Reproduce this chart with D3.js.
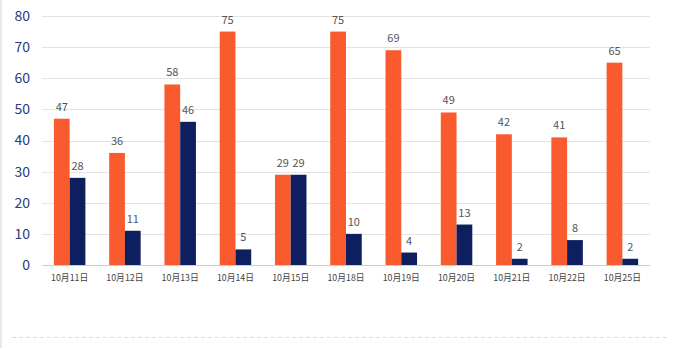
<!DOCTYPE html>
<html><head><meta charset="utf-8">
<script src="https://cdn.jsdelivr.net/npm/d3@7"></script>
<style>
html,body{margin:0;padding:0;background:#fff;}
svg{display:block;}
</style></head>
<body>
<svg id="c" width="700" height="350"></svg>
<script>
const categories = ["10月11日","10月12日","10月13日","10月14日","10月15日","10月18日","10月19日","10月20日","10月21日","10月22日","10月25日"];
const seriesA = [47,36,58,75,29,75,69,49,42,41,65];
const seriesB = [28,11,46,5,29,10,4,13,2,8,2];
const yTicks = [0,10,20,30,40,50,60,70,80];
const colorA = "#f95b2f";
const colorB = "#0d1f5f";

const svg = d3.select("#c");
const font = "'Noto Sans CJK SC','Noto Sans',sans-serif";
const m = {l:42, r:50, t:16, b:85};
const W = 700, H = 350;
const x0 = d3.scaleBand().domain(categories).range([m.l, W - m.r]).paddingInner(0.43).paddingOuter(0.215);
const keys = ["a","b"];
const x1 = d3.scaleBand().domain(keys).range([0, x0.bandwidth()]).padding(0);
const y = d3.scaleLinear().domain([0,80]).range([H - m.b, m.t]);

// left border
svg.append("line").attr("x1",1).attr("x2",1).attr("y1",0).attr("y2",348).attr("stroke","#e2e2e2").attr("stroke-width",1.5);
// bottom dashed line
svg.append("line").attr("x1",12).attr("x2",668).attr("y1",337.5).attr("y2",337.5).attr("stroke","#dddddd").attr("stroke-dasharray","4,3");

// gridlines
svg.append("g").selectAll("line").data(yTicks.filter(d=>d>0)).join("line")
  .attr("x1", m.l).attr("x2", W - m.r)
  .attr("y1", d=>Math.round(y(d))+0.5).attr("y2", d=>Math.round(y(d))+0.5)
  .attr("stroke","#e3e3e3").attr("stroke-width",1);

// y axis labels
const ya = svg.append("g").attr("transform",`translate(${m.l},0)`)
  .call(d3.axisLeft(y).tickValues(yTicks).tickSize(0).tickPadding(12));
ya.select(".domain").remove();
ya.selectAll("text").attr("font-family",font).attr("font-size",14).attr("fill","#2a3a7c");

// x axis
const xa = svg.append("g").attr("transform",`translate(0,${Math.round(y(0))+0.5})`)
  .call(d3.axisBottom(x0).tickSize(0).tickPadding(9));
xa.select(".domain").attr("stroke","#cccccc").attr("d",`M${m.l},0H${W-m.r}`);
xa.selectAll("text").attr("font-family",font).attr("font-size",8.8).attr("fill","#444");

const data = categories.map((c,i)=>({c, vals:[{k:"a",v:seriesA[i],col:colorA},{k:"b",v:seriesB[i],col:colorB}]}));
const g = svg.append("g").selectAll("g").data(data).join("g")
  .attr("transform", d=>`translate(${x0(d.c)},0)`);
g.selectAll("rect").data(d=>d.vals).join("rect")
  .attr("x", d=>x1(d.k)).attr("width", x1.bandwidth())
  .attr("y", d=>y(d.v)).attr("height", d=>y(0)-y(d.v))
  .attr("fill", d=>d.col);
g.selectAll("text").data(d=>d.vals).join("text")
  .attr("x", d=>x1(d.k)+x1.bandwidth()/2).attr("y", d=>y(d.v)-8)
  .attr("text-anchor","middle").attr("font-family",font).attr("font-size",11)
  .attr("fill","#555").text(d=>d.v);
</script>
</body></html>
